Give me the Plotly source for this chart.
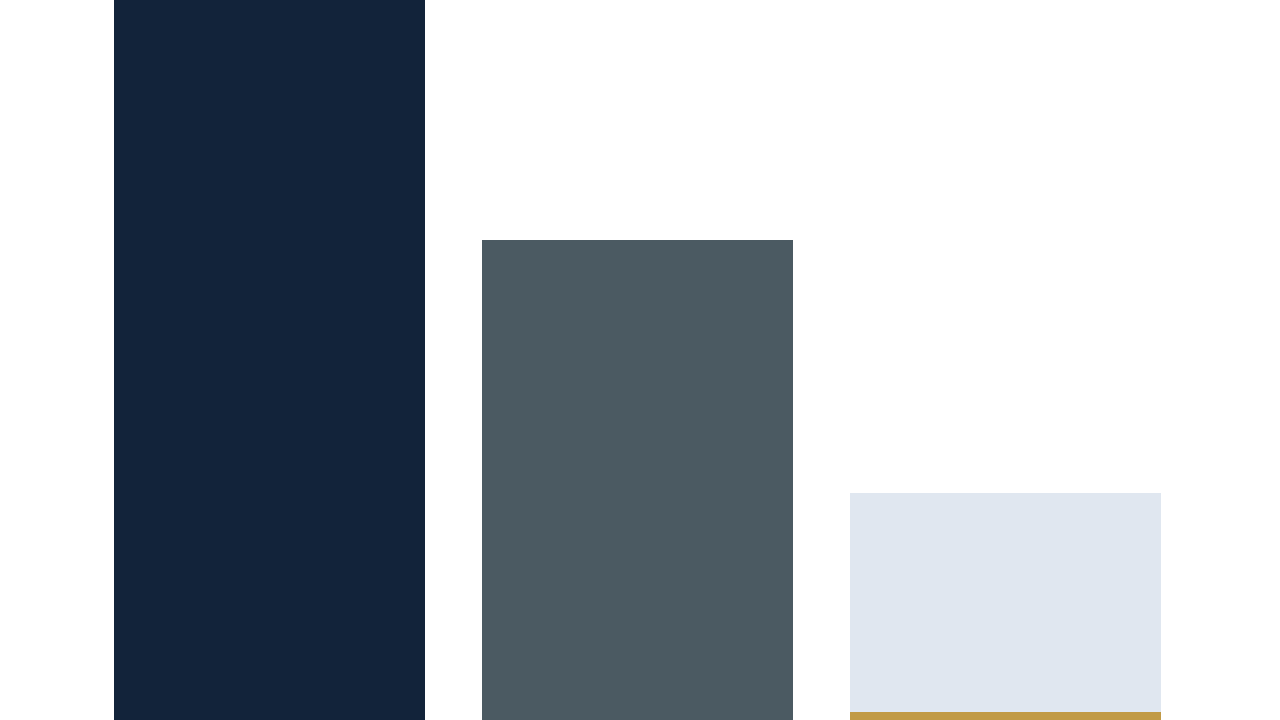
import plotly.graph_objects as go

# three groups, the last one carries a thin gold base segment
categories = ["A", "B", "C"]
base_values = [0, 0, 1.1]
main_values = [100, 66.7, 30.4]
main_colors = ["#12233a", "#4b5a62", "#e0e7f0"]

fig = go.Figure()
fig.add_trace(go.Bar(x=categories, y=base_values, marker_color="#c19a45",
                     marker_line_width=0, showlegend=False, hoverinfo="skip"))
fig.add_trace(go.Bar(x=categories, y=main_values, marker_color=main_colors,
                     marker_line_width=0, showlegend=False))

fig.update_layout(
    barmode="stack",
    bargap=0.155,
    width=1280, height=720,
    margin=dict(l=86, r=91, t=0, b=0),
    plot_bgcolor="white", paper_bgcolor="white",
)
fig.update_xaxes(visible=False)
fig.update_yaxes(visible=False, range=[0, 100])

# page margin off so the figure sits flush with the window
fig.write_html("out.html", config={"displayModeBar": False},
               post_script="document.body.style.margin='0';")
